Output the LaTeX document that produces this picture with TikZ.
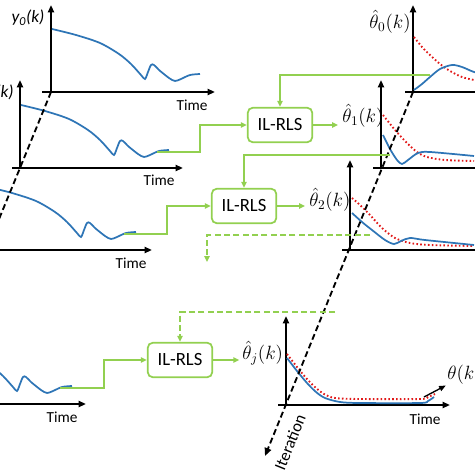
\documentclass[tikz,border=0pt]{standalone}
\usepackage{fontspec}
\setmainfont{Carlito}
\usetikzlibrary{arrows.meta}
\definecolor{ilgreen}{RGB}{146,208,80}
\definecolor{sigblue}{RGB}{46,117,182}
\definecolor{estred}{RGB}{225,25,25}

\begin{document}
\begin{tikzpicture}[x=0.75pt,y=0.75pt,yscale=-1,xscale=1,
    axis/.style={line width=1.5pt,-{Triangle[length=5.5pt,width=4.5pt]}},
    ysig/.style={sigblue,line width=1.3pt},
    estim/.style={estred,line width=1.4pt,dash pattern=on 1.2pt off 1.7pt},
    flow/.style={ilgreen,line width=1.3pt,-{Triangle[length=4.5pt,width=4pt]}},
    dflow/.style={flow,dash pattern=on 4.5pt off 2.5pt},
    ilbox/.style={draw=ilgreen,line width=1.3pt,rounded corners=4pt,minimum width=48.5pt,minimum height=26pt,font=\fontsize{14}{16}\selectfont},
    timelbl/.style={font=\fontsize{11.5}{13}\selectfont,inner sep=0pt},
    estlbl/.style={font=\fontsize{14}{16}\selectfont,inner sep=0pt}]
\useasboundingbox (0,0) rectangle (474,474);

% axis corners
\coordinate (o0) at (51,92);
\coordinate (o1) at (20,168);
\coordinate (o2) at (-13,250);
\coordinate (oj) at (-77,404);
\coordinate (t0) at (413,92);
\coordinate (t1) at (381,168);
\coordinate (t2) at (350,250);
\coordinate (tj) at (286,405);
\coordinate (iterend) at (265,456);

% output axes y_i(k)
\draw[axis] (o0) -- (51,5);
\draw[axis] (42,92) -- (215,92);
\draw[axis] (o1) -- (20,80);
\draw[axis] (12,168) -- (183,168);
\draw[axis] (o2) -- (-13,162);
\draw[axis] (-21,250) -- (152,250);
\draw[axis] (-85,404) -- (86,404);

% estimate axes
\draw[axis] (t0) -- (413,5);
\draw[axis] (405,92) -- (577,92);
\draw[axis] (t1) -- (381,80);
\draw[axis] (373,168) -- (545,168);
\draw[axis] (t2) -- (350,160);
\draw[axis] (342,250) -- (514,250);
\draw[axis] (tj) -- (286,316);
\draw[axis] (278,405) -- (450,405);

% measured outputs
\draw[ysig,shift={(51,92)}] plot[smooth,tension=0.5] coordinates {(1,-63) (25,-57) (49,-49) (68,-38) (80,-28) (90,-17) (94,-13) (97,-20) (100,-27) (103,-27) (108,-22) (118,-14) (124,-11) (130,-13) (139,-17) (149,-18)};
\draw[ysig,shift={(20,168)}] plot[smooth,tension=0.5] coordinates {(1,-63) (25,-57) (49,-49) (68,-38) (80,-28) (90,-17) (94,-13) (97,-20) (100,-27) (103,-27) (108,-22) (118,-14) (124,-11) (130,-13) (139,-17) (149,-18)};
\draw[ysig,shift={(-13,250)}] plot[smooth,tension=0.5] coordinates {(1,-63) (25,-57) (49,-49) (68,-38) (80,-28) (90,-17) (94,-13) (97,-20) (100,-27) (103,-27) (108,-22) (118,-14) (124,-11) (130,-13) (139,-17) (149,-18)};
\draw[ysig,shift={(-77,404)}] plot[smooth,tension=0.5] coordinates {(1,-63) (25,-57) (49,-49) (68,-38) (80,-28) (90,-17) (94,-13) (97,-20) (100,-27) (103,-27) (108,-22) (118,-14) (124,-11) (130,-13) (139,-17) (149,-18)};

% estimates (red) and parameters (blue)
\draw[estim] plot[smooth] coordinates {(414,37) (422,47) (430,55) (440,64) (450,71) (462,77) (474,80) (490,83)};
\draw[ysig] plot[smooth] coordinates {(414,90) (422,84) (430,77) (440,69) (452,65) (462,67) (474,72) (490,76)};
\draw[estim] plot[smooth] coordinates {(383,115) (395,130) (407,143) (417,152) (427,157) (445,160) (474,161)};
\draw[ysig] plot[smooth] coordinates {(383,135) (390,149) (397,160) (402,164) (408,160) (418,153) (430,152) (474,156)};
\draw[estim] plot[smooth] coordinates {(352,198) (360,205) (370,215) (382,228) (395,238) (410,243) (430,245) (474,246)};
\draw[ysig] plot[smooth] coordinates {(352,213) (362,222) (372,230) (385,240) (394,244) (401,241) (410,238) (425,240) (474,245)};
\draw[estim] plot[smooth] coordinates {(287,354) (297,367) (307,379) (316,388) (324,394) (335,398) (360,399) (420,399) (428,397) (435,394)};
\draw[ysig] plot[smooth] coordinates {(287,358) (297,371) (307,383) (316,392) (325,398) (340,402) (360,403) (420,403) (428,401) (434,397)};

% iteration axis
\draw[line width=1.4pt,dash pattern=on 4.5pt off 2.5pt] (o0) -- (o1) -- (oj);
\draw[line width=1.4pt,dash pattern=on 4.5pt off 2.5pt,-{Triangle[length=6pt,width=5pt]}] (t0) -- (iterend);

% labels
\node[font=\fontsize{13}{15}\selectfont\itshape] (ylbl0) at (28,18) {y\textsubscript{0}(k)};
\node[font=\fontsize{13}{15}\selectfont\itshape,anchor=east,inner sep=0pt] (ylbl1) at (14,93) {y\textsubscript{1}(k)};
\node[timelbl] (time0) at (192,105) {Time};
\node[timelbl] (time1) at (159,180) {Time};
\node[timelbl] (time2) at (131,263) {Time};
\node[timelbl] (timej) at (62,417) {Time};
\node[timelbl] (timet) at (425,419) {Time};
\node[estlbl] (th0) at (390,22) {$\hat{\theta}_0(k)$};
\node[estlbl,anchor=west] (th1) at (342,116) {$\hat{\theta}_1(k)$};
\node[estlbl,anchor=west] (th2) at (309,200) {$\hat{\theta}_2(k)$};
\node[estlbl,anchor=west] (thj) at (242,353) {$\hat{\theta}_j(k)$};
\node[estlbl,anchor=west] (thtrue) at (447,375) {$\theta(k)$};
\node[font=\fontsize{12.5}{14}\selectfont,inner sep=0pt,rotate=68] (iterlbl) at (290,442) {Iteration};

% IL-RLS blocks
\node[ilbox] (ilrls1) at (280,125) {IL-RLS};
\node[ilbox] (ilrls2) at (244,206) {IL-RLS};
\node[ilbox] (ilrlsj) at (180,360) {IL-RLS};

\coordinate (in1) at (157,152);
\coordinate (in2) at (124,234);
\coordinate (inj) at (60,388);
\coordinate (fb1) at (430,75);
\coordinate (fb2) at (390,155);
\coordinate (fb3) at (370,235);
\coordinate (nxt) at (207,262);
\coordinate (fb4) at (335,312);
\coordinate (tjpt) at (424,397);

\draw[flow] (in1) -- ++(43,0) |- (ilrls1);
\draw[flow] (in2) -- ++(43,0) |- (ilrls2);
\draw[flow] (inj) -- ++(44,0) |- (ilrlsj);
\draw[flow] (fb1) -| (ilrls1.north);
\draw[flow] (fb2) -| (ilrls2.north);
\draw[dflow] (fb3) -| (nxt);
\draw[dflow] (fb4) -| (ilrlsj.north);
\draw[flow,shorten >=3pt] (ilrls1.east) -- (ilrls1.east -| th1.west);
\draw[flow,shorten >=3pt] (ilrls2.east) -- (ilrls2.east -| th2.west);
\draw[flow,shorten >=2pt] (ilrlsj.east) -- (ilrlsj.east -| thj.west);
\draw[line width=1pt,-{Triangle[length=5pt,width=4pt]},shorten >=1pt] (tjpt) -- (thtrue.south west);
\end{tikzpicture}
\end{document}
